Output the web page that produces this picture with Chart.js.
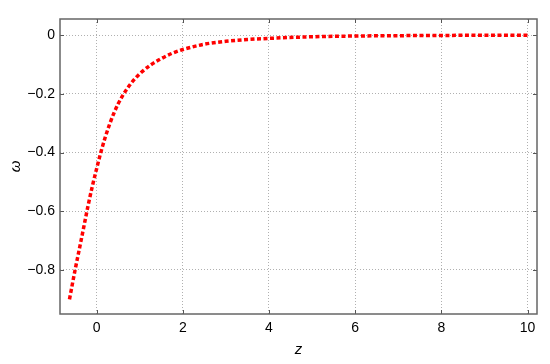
<!DOCTYPE html>
<html>
<head>
<meta charset="utf-8">
<script src="https://cdn.jsdelivr.net/npm/chart.js@4/dist/chart.umd.min.js"></script>
<style>
  html, body { margin: 0; padding: 0; background: #fff; }
  #wrap { width: 550px; height: 364px; }
</style>
</head>
<body>
<div id="wrap"><canvas id="c" width="550" height="364"></canvas></div>
<script>
// Data
const zValues = [-0.63, -0.5, -0.4, -0.3, -0.2, -0.1, 0, 0.1, 0.2, 0.3, 0.4, 0.5, 0.6, 0.8, 1.0, 1.25, 1.5, 1.75, 2.0, 2.5, 3.0, 3.5, 4.0, 5.0, 6.0, 7.0, 8.0, 9.0, 10.0];
const omegaValues = [-0.90, -0.80, -0.728, -0.655, -0.582, -0.515, -0.455, -0.398, -0.348, -0.304, -0.266, -0.234, -0.207, -0.164, -0.132, -0.102, -0.080, -0.062, -0.049, -0.031, -0.021, -0.015, -0.011, -0.0055, -0.003, -0.0018, -0.001, -0.0003, 0.0];
const xTicks = [0, 2, 4, 6, 8, 10];
const yTicks = [0, -0.2, -0.4, -0.6, -0.8];
const xLabels = ["0", "2", "4", "6", "8", "10"];
const yLabels = ["0", "\u22120.2", "\u22120.4", "\u22120.6", "\u22120.8"];

const points = zValues.map((z, i) => ({ x: z, y: omegaValues[i] }));

const FONT = "'Liberation Sans', Arial, sans-serif";

const frameAndTicks = {
  id: 'frameAndTicks',
  afterDatasetsDraw(chart) {
    const { ctx, chartArea: a, scales } = chart;
    ctx.save();
    ctx.strokeStyle = '#555';
    ctx.lineWidth = 1;
    // inward tick marks
    ctx.beginPath();
    xTicks.forEach(v => {
      const px = Math.round(scales.x.getPixelForValue(v)) + 0.5;
      ctx.moveTo(px, a.bottom); ctx.lineTo(px, a.bottom - 4);
      ctx.moveTo(px, a.top); ctx.lineTo(px, a.top + 4);
    });
    yTicks.forEach(v => {
      const py = Math.round(scales.y.getPixelForValue(v)) + 0.5;
      ctx.moveTo(a.left, py); ctx.lineTo(a.left + 4, py);
      ctx.moveTo(a.right, py); ctx.lineTo(a.right - 4, py);
    });
    ctx.stroke();
    ctx.lineWidth = 1.5;
    ctx.strokeStyle = '#666';
    ctx.strokeRect(a.left, a.top, a.right - a.left, a.bottom - a.top);
    ctx.restore();
  }
};

new Chart(document.getElementById('c'), {
  type: 'scatter',
  data: {
    datasets: [{
      data: points,
      showLine: true,
      borderColor: '#ff0000',
      borderWidth: 3.5,
      borderDash: [4, 2.5],
      borderCapStyle: 'butt',
      pointRadius: 0,
      cubicInterpolationMode: 'monotone',
      fill: false
    }]
  },
  plugins: [frameAndTicks],
  options: {
    responsive: false,
    animation: false,
    layout: { padding: { top: 19, right: 13, left: 0, bottom: 0 } },
    plugins: { legend: { display: false }, tooltip: { enabled: false } },
    scales: {
      x: {
        type: 'linear',
        min: -0.85,
        max: 10.22,
        afterBuildTicks: s => { s.ticks = xTicks.map(v => ({ value: v })); },
        afterFit: s => { s.height = 50; },
        grid: { color: '#b0b0b0', lineWidth: 1, drawTicks: false, borderDash: [1, 2] },
        border: { display: false, dash: [1, 2] },
        ticks: {
          padding: 6,
          color: '#000',
          font: { family: FONT, size: 14 },
          maxRotation: 0,
          callback: (v) => { const i = xTicks.indexOf(v); return i >= 0 ? xLabels[i] : ''; }
        },
        title: {
          display: true,
          text: 'z',
          color: '#000',
          font: { family: FONT, size: 15, style: 'italic' },
          padding: { top: 0, bottom: 5 }
        }
      },
      y: {
        type: 'linear',
        min: -0.95,
        max: 0.055,
        afterBuildTicks: s => { s.ticks = yTicks.map(v => ({ value: v })); },
        afterFit: s => { s.width = 60; },
        grid: { color: '#b0b0b0', lineWidth: 1, drawTicks: false },
        border: { display: false, dash: [1, 2] },
        ticks: {
          padding: 5,
          color: '#000',
          font: { family: FONT, size: 14 },
          callback: (v) => { const i = yTicks.findIndex(t => Math.abs(t - v) < 1e-9); return i >= 0 ? yLabels[i] : ''; }
        },
        title: {
          display: true,
          text: 'ω',
          color: '#000',
          font: { family: FONT, size: 15, style: 'italic' },
          padding: { top: 7, bottom: 0 }
        }
      }
    }
  }
});
</script>
</body>
</html>
